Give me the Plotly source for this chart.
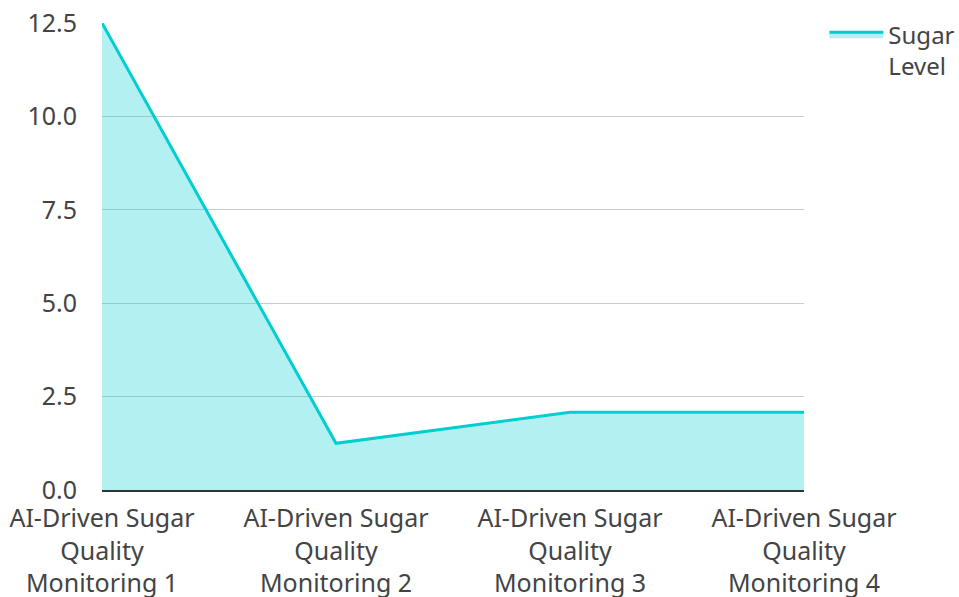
import plotly.graph_objects as go

categories = ["AI-Driven Sugar<br>Quality<br>Monitoring 1",
              "AI-Driven Sugar<br>Quality<br>Monitoring 2",
              "AI-Driven Sugar<br>Quality<br>Monitoring 3",
              "AI-Driven Sugar<br>Quality<br>Monitoring 4"]
sugar_level = [12.5, 1.25, 2.08, 2.08]
series_name = "Sugar<br>Level"
y_ticks = [0, 2.5, 5, 7.5, 10, 12.5]

fig = go.Figure()
fig.add_trace(go.Scatter(
    x=categories, y=sugar_level, name=series_name,
    mode="lines", fill="tozeroy",
    line=dict(color="#00CED1", width=3),
    fillcolor="rgba(0,206,209,0.3)",
))
fig.update_layout(
    width=959, height=597,
    margin=dict(l=102, r=155, t=23, b=107, autoexpand=False),
    paper_bgcolor="white", plot_bgcolor="white",
    font=dict(family="Noto Sans", size=24, color="#444"),
    showlegend=True,
    legend=dict(x=1.029, y=1.0234, xanchor="left", yanchor="top",
                itemwidth=54, valign="top",
                font=dict(size=24, color="#444")),
    xaxis=dict(range=[0, 3], showgrid=False, showline=True, automargin=False,
               linecolor="#333", linewidth=2, ticks="", ticklabelstandoff=5,
               ticklabeloverflow="allow",
               tickfont=dict(size=25, color="#444")),
    yaxis=dict(range=[0, 12.5], tickvals=y_ticks, tickformat=".1f",
               automargin=False, ticklabelstandoff=24,
               ticklabeloverflow="allow",
               showgrid=True, gridcolor="#cccccc", gridwidth=1,
               zeroline=False, showline=False, ticks="",
               tickfont=dict(size=25, color="#444")),
)
fig.write_html("out.html", config={"displayModeBar": False},
               post_script="document.body.style.margin='0px';")
